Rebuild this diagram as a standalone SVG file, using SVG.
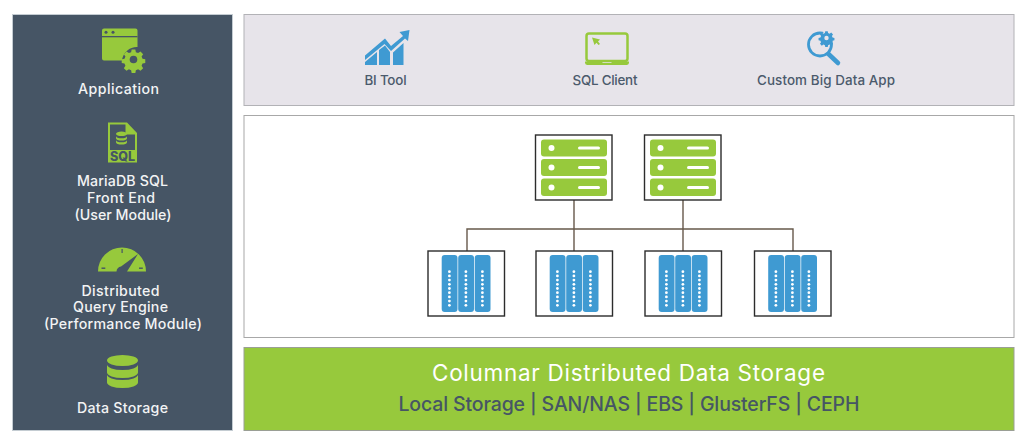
<svg xmlns="http://www.w3.org/2000/svg" xmlns:xlink="http://www.w3.org/1999/xlink" width="1024" height="441" viewBox="0 0 1024 441">
<style>
text{font-family:Inter,"Open Sans","Liberation Sans",sans-serif;font-weight:500}
.side{fill:#f2f3f4;font-size:14.2px}
.top{fill:#4b5a6c;font-size:13.4px}
.g{fill:#97c93c}
.b{fill:#3f9ad2}
.box{fill:#fff;stroke:#2c2c2c;stroke-width:1.4}
.conn{fill:none;stroke:#67594b;stroke-width:1.4}
.bar{fill:#fff}
</style>
<defs>
<g id="gear"><path d="M-2-11h4l.6 3 2.4 1 2.6-1.700 2.900 2.900-1.700 2.600 1 2.400 3 .6v4l-3 .6-1 2.400 1.700 2.600-2.900 2.900-2.600-1.700-2.400 1-.6 3h-4l-.6-3-2.400-1-2.600 1.700-2.900-2.900 1.700-2.600-1-2.400-3-.6v-4l3-.6 1-2.400-1.700-2.600 2.900-2.900 2.600 1.700 2.400-1z"/></g>
<g id="srv">
<rect class="box" x="535.500" y="135" width="76.500" height="65"/>
<rect class="g" x="541" y="139.500" width="66" height="17" rx="3"/>
<rect class="g" x="541" y="159" width="66" height="17" rx="3"/>
<rect class="g" x="541" y="178.500" width="66" height="17.500" rx="3"/>
<circle class="bar" cx="551.500" cy="148" r="3"/><circle class="bar" cx="551.500" cy="167.500" r="3"/><circle class="bar" cx="551.500" cy="187.500" r="3"/>
<rect class="bar" x="578" y="146.500" width="22" height="3" rx="1.500"/><rect class="bar" x="578" y="166" width="22" height="3" rx="1.500"/><rect class="bar" x="578" y="186" width="22" height="3" rx="1.500"/>
</g>
<g id="col">
<rect class="b" x="0" y="0" width="15.800" height="57" rx="3"/>
<g class="bar"><circle cx="7.700" cy="16.700" r="1.400"/><circle cx="7.700" cy="20.900" r="1.400"/><circle cx="7.700" cy="25.100" r="1.400"/><circle cx="7.700" cy="29.300" r="1.400"/><circle cx="7.700" cy="33.500" r="1.400"/><circle cx="7.700" cy="37.700" r="1.400"/><circle cx="7.700" cy="41.900" r="1.400"/><circle cx="7.700" cy="46.100" r="1.400"/><circle cx="7.700" cy="50.300" r="1.400"/></g>
</g>
<g id="rack">
<rect class="box" x="0" y="0" width="76.500" height="65"/>
<use xlink:href="#col" href="#col" x="13.700" y="4"/><use xlink:href="#col" href="#col" x="30.200" y="4"/><use xlink:href="#col" href="#col" x="46.700" y="4"/>
</g>
</defs>

<rect id="bg" width="1024" height="441" fill="#fff"/>

<g id="panels">
<rect x="12.500" y="14.500" width="220" height="416" fill="#465565" stroke="#c4ccd2"/>
<rect x="244" y="14.500" width="770" height="91" fill="#e7e4ea" stroke="#b2b2b6"/>
<rect x="244" y="115.500" width="770" height="222" fill="#fff" stroke="#a8a8a8"/>
<rect x="244" y="347.500" width="770" height="83" fill="#97c93c" stroke="#9a9f95"/>
</g>

<g id="connectors">
<path class="conn" d="M574 200V251M683 200V251M467 251V229H793V251"/>
</g>

<g id="node-application">
<path class="g" d="M104 28.500H135.500a2 2 0 0 1 2 2V47a15 15 0 0 0-15.500 13.500H104a2 2 0 0 1-2-2V30.500a2 2 0 0 1 2-2Z"/>
<rect x="102" y="36" width="35.500" height="1.300" fill="#465565"/>
<circle cx="106" cy="32.300" r="1.500" fill="#465565"/><circle cx="113" cy="32.300" r="1.500" fill="#465565"/>
<use xlink:href="#gear" href="#gear" class="g" transform="translate(133.500 59.500) scale(.92)"/>
<circle cx="133.500" cy="59.500" r="3.800" fill="#465565"/>
<text class="side" x="118.500" y="94" text-anchor="middle" textLength="81" lengthAdjust="spacing">Application</text>
</g>

<g id="node-sql">
<path class="g" d="M108 122.500H127L137 133V162.500H108Z"/>
<path d="M110 124.500H125.500V134.500H135V150H110Z" fill="#465565"/>
<g class="g"><ellipse cx="121.500" cy="133.800" rx="5.500" ry="2.300"/><path d="M116 136v2.300a5.500 2.300 0 0 0 11 0V136a5.500 2.300 0 0 1-11 0Z"/><path d="M116 140v2.300a5.500 2.300 0 0 0 11 0V140a5.500 2.300 0 0 1-11 0Z"/></g>
<text x="122.500" y="160.500" text-anchor="middle" font-size="12.500" style="font-weight:800" fill="#465565">SQL</text>
<text class="side" x="122.500" y="186" text-anchor="middle" textLength="91" lengthAdjust="spacing">MariaDB SQL</text>
<text class="side" x="121" y="203" text-anchor="middle" textLength="68" lengthAdjust="spacing">Front End</text>
<text class="side" x="123" y="219.500" text-anchor="middle" textLength="97" lengthAdjust="spacing">(User Module)</text>
</g>

<g id="node-engine">
<path class="g" d="M98 271.500A24 24 0 0 1 146 271.500H127L138 254L121 266.500A5.500 5.500 0 0 0 116.500 271.500Z"/>
<g fill="#465565"><rect x="121.500" y="249" width="1.200" height="4"/><rect x="101.500" y="267.500" width="3.800" height="1.400"/><rect x="139" y="267.500" width="3.800" height="1.400"/></g>
<text class="side" x="120.500" y="296" text-anchor="middle" textLength="78" lengthAdjust="spacing">Distributed</text>
<text class="side" x="120.500" y="312" text-anchor="middle" textLength="95" lengthAdjust="spacing">Query Engine</text>
<text class="side" x="123" y="329" text-anchor="middle" textLength="158" lengthAdjust="spacing">(Performance Module)</text>
</g>

<g id="node-storage">
<ellipse class="g" cx="122.500" cy="360.500" rx="15.500" ry="5.500"/>
<path class="g" d="M107 363a15.500 5.500 0 0 0 31 0V371a15.500 5.500 0 0 1-31 0Z" transform="translate(0 1.500)"/>
<path class="g" d="M107 372a15.500 5.500 0 0 0 31 0V380a15.500 5.500 0 0 1-31 0Z" transform="translate(0 2.500)"/>
<text class="side" x="122.500" y="413" text-anchor="middle" textLength="91" lengthAdjust="spacing">Data Storage</text>
</g>

<g id="node-bi">
<path class="b" d="M365 55.500L385 38.500L391 46L403 36L399.500 32L409.500 30L408 41L405 38.500L391 51L384.500 44L365 60Z"/>
<path class="b" d="M365 65V62L377 52V65ZM379 65V50L385 45.500L390 52V65ZM393 65V52.500L403.500 43V65Z"/>
<text class="top" x="385.500" y="85" text-anchor="middle" textLength="42" lengthAdjust="spacing">BI Tool</text>
</g>

<g id="node-sqlclient">
<rect x="586.500" y="33.500" width="41" height="27.500" rx="2.500" fill="none" stroke="#97c93c" stroke-width="2.500"/>
<path class="g" d="M585 61.500H601.500L603 63H611L612.500 61.500H629V63A2.500 2.500 0 0 1 626.500 65H587.500A2.500 2.500 0 0 1 585 63Z"/>
<path class="g" d="M592 37.500L600 39.500L598 41.500L600 44L598.500 45L596.500 42.800L594.500 45Z"/>
<text class="top" x="605" y="85" text-anchor="middle" textLength="65" lengthAdjust="spacing">SQL Client</text>
</g>

<g id="node-custom">
<circle cx="820" cy="44.500" r="11.500" fill="none" stroke="#3f9ad2" stroke-width="2.800"/>
<path d="M828.500 54L838 63" fill="none" stroke="#3f9ad2" stroke-width="4.500" stroke-linecap="round"/>
<circle cx="826.500" cy="38" r="6.500" fill="#e7e4ea"/>
<use xlink:href="#gear" href="#gear" class="b" transform="translate(826.500 38) scale(.62)"/>
<circle cx="826.500" cy="38" r="2.200" fill="#e7e4ea"/>
<text class="top" x="826" y="85" text-anchor="middle" textLength="138" lengthAdjust="spacing">Custom Big Data App</text>
</g>

<g id="node-server-1"><use xlink:href="#srv" href="#srv"/></g>
<g id="node-server-2"><use xlink:href="#srv" href="#srv" x="109"/></g>
<g id="node-rack-1"><use xlink:href="#rack" href="#rack" x="428" y="251"/></g>
<g id="node-rack-2"><use xlink:href="#rack" href="#rack" x="536" y="251"/></g>
<g id="node-rack-3"><use xlink:href="#rack" href="#rack" x="645" y="251"/></g>
<g id="node-rack-4"><use xlink:href="#rack" href="#rack" x="754.500" y="251"/></g>

<g id="node-columnar">
<text x="628.500" y="381" text-anchor="middle" font-size="22.500" fill="#fff" style="font-weight:400" textLength="393" lengthAdjust="spacing">Columnar Distributed Data Storage</text>
<text x="629" y="410.500" text-anchor="middle" font-size="19.500" fill="#465565" textLength="461" lengthAdjust="spacing">Local Storage | SAN/NAS | EBS | GlusterFS | CEPH</text>
</g>
</svg>
